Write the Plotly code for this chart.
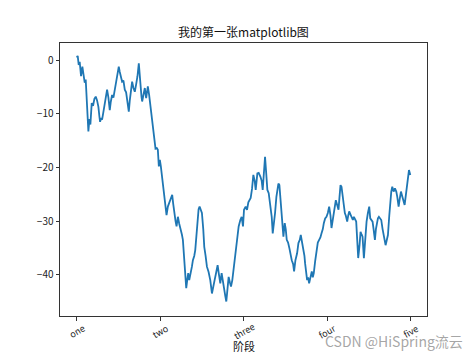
import plotly.graph_objects as go

# step index and cumulative value
steps = [0,3,6,9,13,17,20,24,27,30,33,35,38,41,45,49,53,57,61,65,68,70,73,76,79,82,86,91,95,99,
         102,106,110,114,118,122,126,129,133,136,140,144,148,152,156,159,163,166,170,174,178,182,186,189,191,194,196,
         200,204,208,213,217,220,225,229,233,236,240,243,246,249,252,256,261,265,269,273,277,282,286,289,292,296,299,
         303,307,311,315,318,322,325,328,331,334,337,341,345,348,352,355,359,362,365,368,372,375,379,382,386,390,395,
         400,405,409,413,418,422,426,430,434,438,442,445,448,451,455,459,462,466,470,475,481,485,490,494,498,
         501,506,510,514,517,521,525,529,533,536,541,545,550,554,557,561,564,568,571,575,579,584,587,591,594,598,
         601,604,607,610,612,616,619,623,626,629,633,637,641,644,648,651,655,660,664,668,671,675,678,682,684,688,690,693,696,
         700,704,707,710,714,718,722,726,730,733,737,740,744,748,752,756,760,763,767,771,776,780,784,787,790,793,797,
         800,803,806,810,813,816,820,823,827,830,834,837,840,843,847,850,853,856,860,864,868,872,876,879,882,886,889,893,896,899,
         902,905,909,912,916,919,922,925,929,932,936,939,942,945,949,953,957,960,964,967,971,975,978,982,985,988,991,995,999]
values = [0.5,0.8,-0.9,-0.3,-3.0,-1.2,-2.5,-4.2,-3.6,-8.0,-11.5,-13.3,-11.0,-12.0,-8.0,-8.5,-7.2,-6.8,-7.5,-8.7,-10.5,-11.5,-10.8,-11.1,-10.0,-8.7,-7.5,-5.5,-7.0,-9.3,
          -7.8,-6.5,-7.0,-5.5,-4.5,-3.0,-1.2,-2.2,-3.3,-4.0,-3.8,-5.5,-6.0,-8.0,-9.6,-7.5,-5.0,-4.0,-5.2,-5.9,-4.5,-3.0,-0.6,-3.5,-5.5,-6.8,-7.7,
          -6.0,-5.2,-7.1,-4.9,-6.5,-8.0,-10.5,-12.7,-14.0,-16.5,-16.4,-16.7,-19.8,-18.6,-19.8,-22.0,-24.2,-26.5,-28.9,-27.3,-26.5,-25.8,-25.1,-26.8,-28.5,-30.0,-31.0,
          -29.2,-30.5,-31.3,-32.5,-33.5,-36.5,-39.1,-42.5,-41.0,-39.7,-41.0,-40.0,-38.5,-37.3,-36.5,-35.4,-32.0,-28.5,-27.8,-27.3,-28.0,-28.5,-31.5,-34.8,-36.5,-38.5,-39.5,
          -41.0,-43.5,-42.0,-41.0,-39.5,-38.2,-40.0,-41.6,-39.7,-41.5,-43.5,-44.0,-45.0,-43.0,-40.4,-41.5,-42.2,-41.0,-39.1,-36.5,-32.9,-31.0,-29.8,-29.2,-31.0,
          -27.9,-27.3,-27.9,-26.5,-26.1,-25.7,-24.0,-21.4,-22.5,-24.2,-21.1,-21.0,-21.7,-22.5,-24.2,-21.0,-18.0,-21.5,-24.2,-24.8,-26.5,-29.2,-32.3,-30.5,-28.5,-25.5,
          -23.6,-23.0,-23.3,-25.5,-28.5,-30.5,-32.9,-30.4,-31.5,-33.5,-34.0,-35.1,-36.5,-37.3,-38.0,-39.4,-37.3,-36.0,-34.1,-33.5,-32.6,-34.0,-34.8,-36.5,-37.9,-40.0,-41.0,-40.5,-41.6,
          -40.5,-39.4,-40.5,-39.7,-37.5,-35.4,-34.0,-33.5,-33.0,-32.3,-31.5,-30.4,-29.5,-29.2,-28.5,-27.3,-29.0,-31.3,-29.5,-28.5,-26.1,-27.0,-27.9,-25.5,-23.3,-23.6,-26.1,
          -27.9,-28.5,-29.0,-30.1,-29.0,-28.2,-28.8,-29.2,-29.8,-29.2,-29.6,-30.1,-33.5,-36.9,-34.5,-32.0,-32.5,-32.9,-36.9,-33.0,-30.1,-28.5,-27.3,-29.5,-29.8,-30.1,-31.5,-33.5,-31.5,-30.1,
          -29.5,-29.2,-29.5,-29.8,-31.5,-32.9,-33.5,-34.5,-33.5,-32.6,-29.0,-26.1,-24.5,-23.6,-24.5,-23.9,-24.5,-25.5,-27.3,-26.0,-24.5,-25.4,-26.0,-27.0,-25.5,-24.2,-23.0,-20.5,-21.4]

x_tick_vals = [0, 250, 500, 750, 1000]
x_tick_text = ["one", "two", "three", "four", "five"]
y_tick_vals = [0, -10, -20, -30, -40]

title_text = "我的第一张matplotlib图"
x_label = "阶段"
watermark = "CSDN @HiSpring流云"

FONT = "Noto Sans CJK SC, SimHei, sans-serif"

L, R, T, B = 60, 427, 43, 316
W, H = 474, 355
PH = B - T
PW = R - L


def py(pix):
    """pixel row -> paper y"""
    return (B - pix) / PH


def px(pix):
    return (pix - L) / PW


fig = go.Figure()
fig.add_trace(go.Scatter(x=steps, y=values, mode="lines",
                         line=dict(color="#1f77b4", width=1.8), hoverinfo="skip"))

axis_common = dict(showline=True, linecolor="#333333", linewidth=1, mirror=True,
                   ticks="outside", ticklen=3.5, tickwidth=0.8, tickcolor="#333333",
                   showgrid=False, zeroline=False,
                   tickfont=dict(family=FONT, size=10, color="#222222"))

fig.update_layout(
    width=W, height=H,
    margin=dict(l=L, r=W - R, t=T, b=H - B),
    paper_bgcolor="white", plot_bgcolor="white",
    showlegend=False,
    title=dict(text=title_text, x=0.5, xanchor="center", xref="paper",
               y=1 - 33 / H, yanchor="middle",
               font=dict(family=FONT, size=12, color="#111111")),
    xaxis=dict(range=[-50, 1049], tickvals=x_tick_vals,
               ticktext=[""] * len(x_tick_vals), **axis_common),
    yaxis=dict(range=[-47.7, 3.2], tickvals=y_tick_vals, **axis_common),
)

# rotated x tick labels, centred under each tick like matplotlib's rotation=30
for v, t in zip(x_tick_vals, x_tick_text):
    fig.add_annotation(text=t, x=v, xref="x", y=py(331), yref="paper",
                       xanchor="center", yanchor="middle", textangle=-30,
                       showarrow=False,
                       font=dict(family=FONT, size=9, color="#222222"))

fig.add_annotation(text=x_label, xref="paper", yref="paper", x=0.5, y=py(346),
                   showarrow=False, yanchor="middle",
                   font=dict(family=FONT, size=11, color="#111111"))
fig.add_annotation(text=watermark, xref="paper", x=px(465), xanchor="right",
                   yref="paper", y=py(341), showarrow=False, yanchor="middle",
                   font=dict(family=FONT, size=14, color="rgba(150,150,150,0.85)"))

fig.write_html("out.html")
